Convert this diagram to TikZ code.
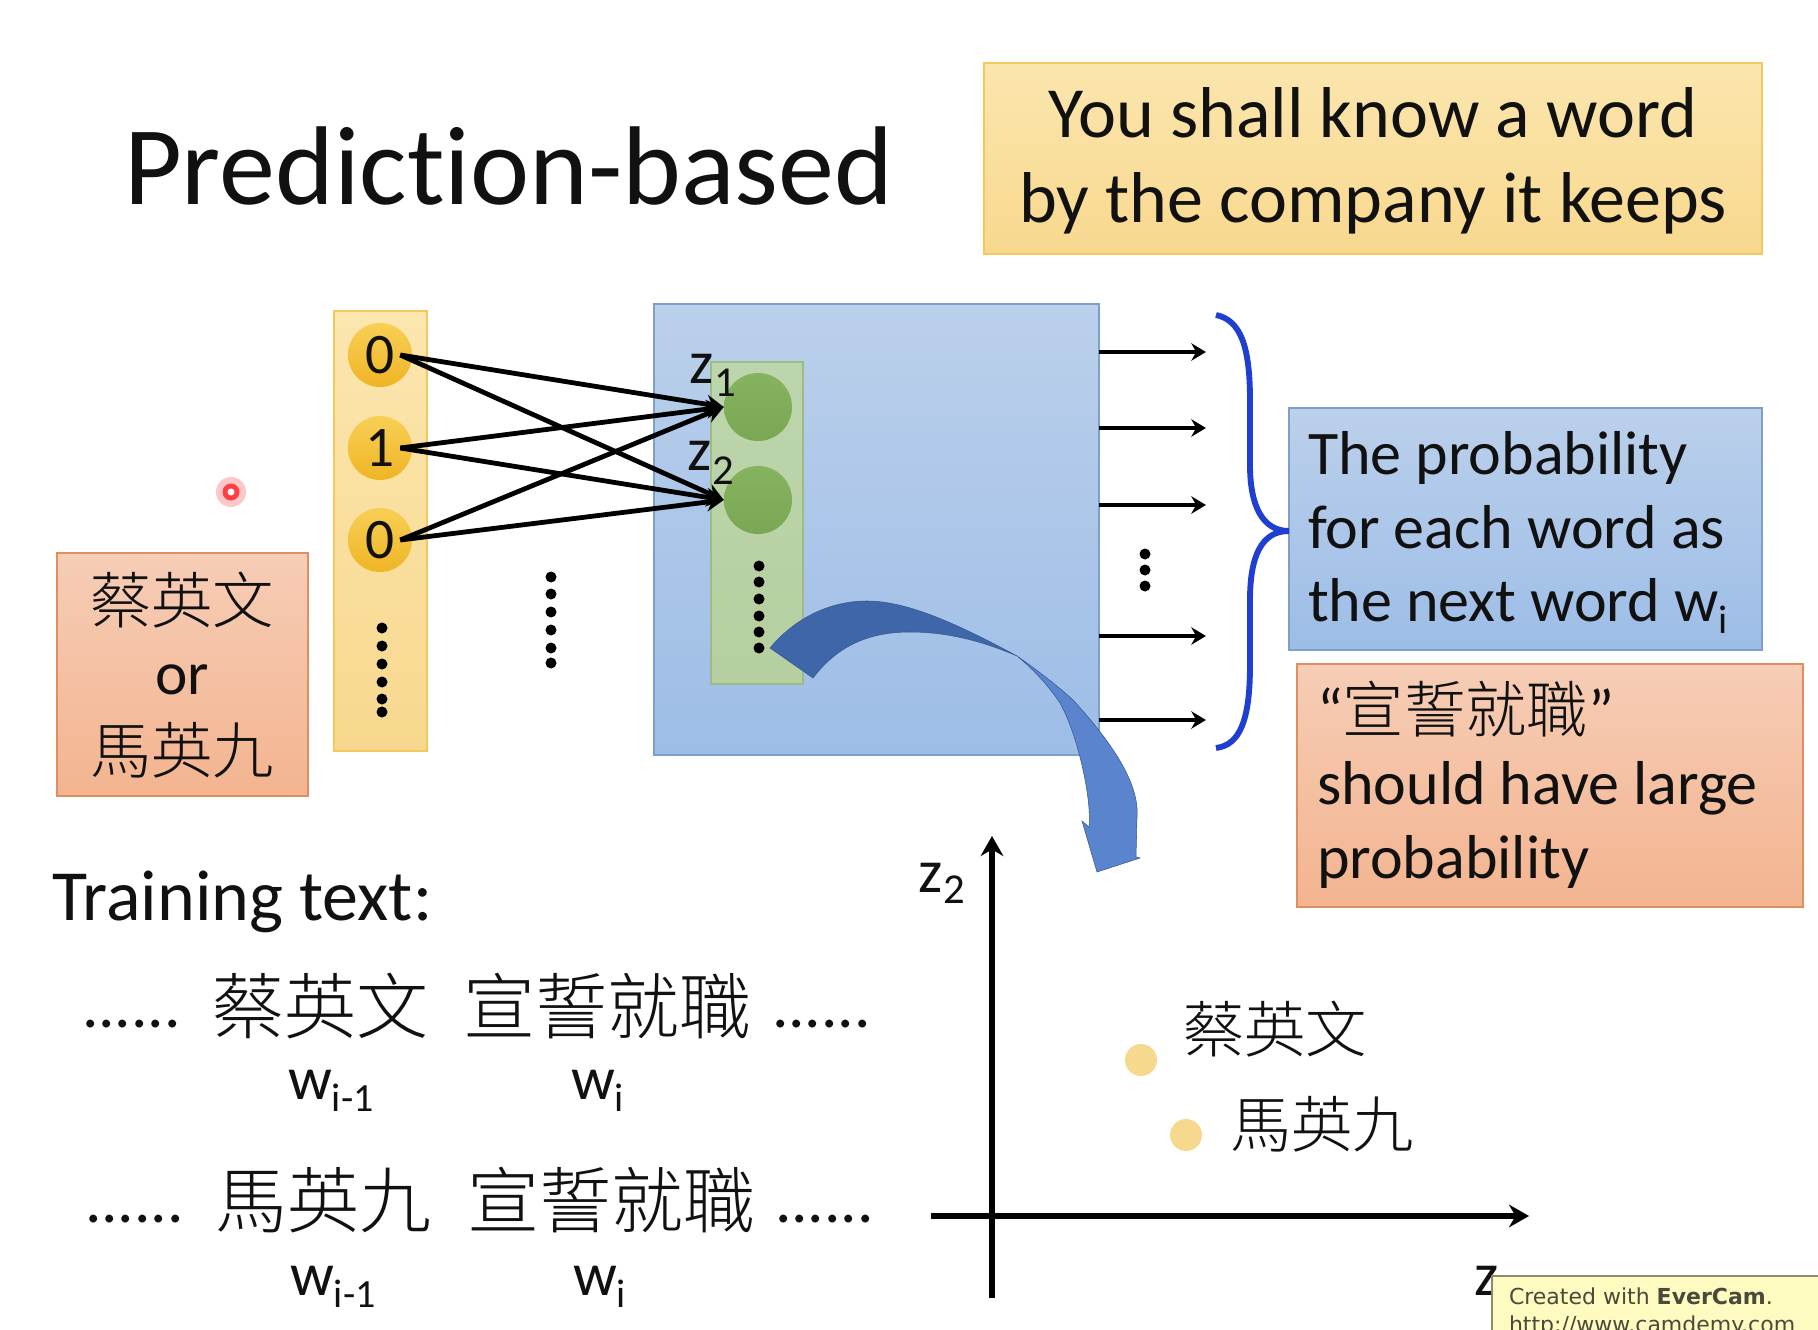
\documentclass[tikz,border=0pt]{standalone}
\usepackage{fontspec}
\usetikzlibrary{arrows.meta}
\setmainfont[Ligatures=NoCommon]{Carlito}
\newfontfamily\cjk[UprightFont=* Light]{Noto Sans CJK TC}
\newfontfamily\titlefont[Ligatures=NoCommon]{Carlito}
\newfontfamily\wmfont{DejaVu Sans}
\newcommand{\fsz}[1]{\fontsize{#1}{#1}\selectfont}
\newcommand{\subt}[1]{{\fontsize{30}{30}\selectfont\raisebox{-0.32em}{#1}}}
\definecolor{txt}{HTML}{111111}
\definecolor{yelT}{HTML}{FBE6AE}\definecolor{yelB}{HTML}{F8D88E}\definecolor{yelL}{HTML}{F3C95C}
\definecolor{bluT}{HTML}{BBD0EB}\definecolor{bluB}{HTML}{9DBDE7}\definecolor{bluL}{HTML}{7F9FCB}
\definecolor{orgT}{HTML}{F6CDB6}\definecolor{orgB}{HTML}{F3B48F}\definecolor{orgL}{HTML}{DE8F62}
\definecolor{grnT}{HTML}{BDD5AC}\definecolor{grnB}{HTML}{B5CFA0}\definecolor{grnL}{HTML}{9CBB85}
\definecolor{nyT}{HTML}{F8CF55}\definecolor{nyB}{HTML}{EFB525}
\definecolor{ngT}{HTML}{86B35F}\definecolor{ngB}{HTML}{7BA755}
\definecolor{braceC}{HTML}{1F3FD0}\definecolor{ptC}{HTML}{F7D88F}
\definecolor{arrD}{HTML}{3F66A8}\definecolor{arrM}{HTML}{5A84CE}
\definecolor{wmfill}{HTML}{FDFBC0}\definecolor{wmline}{HTML}{8A8A70}\definecolor{wmtext}{HTML}{4A4A3A}
\tikzset{
  txtnode/.style={inner sep=0pt,outer sep=0pt,text=txt,anchor=base west},
  ctr/.style={inner sep=0pt,outer sep=0pt,text=txt,anchor=center},
  yellowfill/.style={top color=yelT,bottom color=yelB,draw=yelL,line width=1pt},
  bluefill/.style={top color=bluT,bottom color=bluB,draw=bluL,line width=0.8pt},
  orangefill/.style={top color=orgT,bottom color=orgB,draw=orgL,line width=1pt},
  greenfill/.style={top color=grnT,bottom color=grnB,draw=grnL,line width=0.8pt},
  neuronY/.style={circle,minimum size=48pt,inner sep=0pt,top color=nyT,bottom color=nyB,text=txt},
  neuronG/.style={circle,minimum size=51pt,inner sep=0pt,top color=ngT,bottom color=ngB},
  linkarrow/.style={-{Stealth[length=13pt,width=14pt]},line width=3.6pt,black},
  outarrow/.style={-{Stealth[length=11pt,width=13pt]},line width=3.6pt,black},
  axisarrow/.style={-{Stealth[length=15pt,width=17pt]},line width=5pt,black},
  bluebrace/.style={draw=braceC,line width=4.4pt},
  wordpt/.style={circle,minimum size=24pt,inner sep=0pt,fill=ptC},
  dotfill/.style={fill=black},
}
\begin{document}
\begin{tikzpicture}[x=0.75pt,y=-0.75pt]
\useasboundingbox (0,0) rectangle (1818,1330);
\fill[white] (0,0) rectangle (1818,1330);

% title and quote
\node[txtnode,font=\titlefont\fsz{84}] (title) at (124,205) {Prediction-based};
\path[yellowfill] (984,63) rectangle (1762,254);
\node[ctr,font=\fsz{54}] (q1) at (1373,113) {You shall know a word};
\node[ctr,font=\fsz{54}] (q2) at (1373,203) {by the company it keeps};

% cursor
\fill[red!22] (231,492) circle (15);
\fill[red!75] (231,492) circle (8.5);
\fill[white] (231,492) circle (3.5);

% left word box
\path[orangefill] (57,553) rectangle (308,796);
\node[ctr,font=\cjk\fsz{46}] (w1) at (182,600) {蔡英文};
\node[ctr,font=\fsz{46}] (wor) at (182,680) {or};
\node[ctr,font=\cjk\fsz{46}] (w2) at (182,750) {馬英九};

% input column
\path[yellowfill] (334,311) rectangle (427,751);
\node[neuronY,font=\fsz{43}] (c1) at (380,355) {0};
\node[neuronY,font=\fsz{43}] (c2) at (380,448) {1};
\node[neuronY,font=\fsz{43}] (c3) at (380,540) {0};
\foreach \y in {628,646,664,682,699,712}{\fill[dotfill] (382,\y) circle (5.5);}
\foreach \y in {577,594,612,630,648,663}{\fill[dotfill] (551,\y) circle (5.5);}

% network block
\path[bluefill] (654,304) rectangle (1099,755);
\path[greenfill] (711,362) rectangle (803,684);
\node[neuronG] (g1) at (758,407) {};
\node[neuronG] (g2) at (758,500) {};
\foreach \y in {566,582,599,616,632,648}{\fill[dotfill] (759,\y) circle (5.5);}
\node[txtnode,font=\fsz{46}] (zl1) at (689,383) {z};
\node[txtnode,font=\fsz{32}] (zs1) at (714,397) {1};
\node[txtnode,font=\fsz{46}] (zl2) at (687,470) {z};
\node[txtnode,font=\fsz{32}] (zs2) at (712,484) {2};

\foreach \a in {c1,c2,c3}{\foreach \b in {g1,g2}{
  \draw[linkarrow] (\a.east) ++(-12,0) -- (\b.west);
}}

% outputs
\foreach \n/\y in {a/352,b/428,c/505,d/636,e/720}{
  \coordinate (s\n) at (1099,\y);
  \coordinate (t\n) at (1206,\y);
  \draw[outarrow] (s\n) -- (t\n);
}
\foreach \y in {554,570,586}{\fill[dotfill] (1145,\y) circle (5.5);}

% explanation boxes
\path[bluefill] (1289,408) rectangle (1762,650);
\node[txtnode,font=\fsz{46.5}] (p1) at (1308,474) {The probability};
\node[txtnode,font=\fsz{46.5}] (p2) at (1308,548) {for each word as};
\node[txtnode,font=\fsz{46.5}] (p3) at (1308,621) {the next word w\subt{i}};
\path[orangefill] (1297,664) rectangle (1803,907);
\node[txtnode,font=\fsz{46.5}] (l1) at (1317,732) {“{\cjk\fsz{46}宣誓就職}”};
\node[txtnode,font=\fsz{46.5}] (l2) at (1317,804) {should have large};
\node[txtnode,font=\fsz{46.5}] (l3) at (1317,878) {probability};

% brace
\coordinate (bt) at (1216,315);
\coordinate (bm) at (1289,531);
\coordinate (bb) at (1216,748);
\draw[bluebrace] (bt) .. controls (1240,320) and (1250,345) .. (1250,400)
  -- (1250,465) .. controls (1250,505) and (1262,531) .. (bm)
  .. controls (1262,531) and (1250,555) .. (1250,600)
  -- (1250,665) .. controls (1250,720) and (1240,745) .. (bb);

% big curved arrow: dark tail part and lighter head part
\path[fill=arrD,draw=arrD!85!black,line width=0.4pt]
  (770,648) .. controls (795,618) and (830,601) .. (867,601)
  .. controls (910,601) and (965,628) .. (1017,656)
  .. controls (980,640) and (945,632) .. (910,632)
  .. controls (870,632) and (838,645) .. (813,678) -- cycle;
\path[fill=arrM,draw=arrD!85!black,line width=0.4pt]
  (1017,656) .. controls (1040,672) and (1060,688) .. (1073,700)
  .. controls (1105,735) and (1140,780) .. (1137,817)
  -- (1136,857) -- (1140,858) -- (1097,872) -- (1082,821) -- (1089,827)
  .. controls (1092,800) and (1078,735) .. (1060,703)
  .. controls (1048,685) and (1032,668) .. (1017,656) -- cycle;

% axes
\coordinate (x0) at (931,1216);
\coordinate (x1) at (1529,1216);
\coordinate (y0) at (992,1298);
\coordinate (y1) at (992,836);
\draw[axisarrow] (x0) -- (x1);
\draw[axisarrow] (y0) -- (y1);
\node[txtnode,font=\fsz{46}] (zy) at (918,892) {z};
\node[txtnode,font=\fsz{32}] (zy2) at (943,903) {2};
\node[txtnode,font=\fsz{46}] (zx) at (1474,1295) {z};
\node[wordpt] (p1pt) at (1141,1060) {};
\node[wordpt] (p2pt) at (1186,1135) {};
\node[ctr,font=\cjk\fsz{46}] (lab1) at (1275,1029) {蔡英文};
\node[ctr,font=\cjk\fsz{46}] (lab2) at (1322,1124) {馬英九};

% training text
\node[txtnode,font=\fsz{54}] (tt) at (52,920) {Training text:};
\node[txtnode,font=\fsz{49}] (d1) at (82,1027) {......};
\node[ctr,font=\cjk\fsz{54}] (a1) at (320,1006) {蔡英文};
\node[ctr,font=\cjk\fsz{54}] (a2) at (607,1006) {宣誓就職};
\node[txtnode,font=\fsz{49}] (d2) at (772,1027) {......};
\node[txtnode,font=\fsz{46}] (a3) at (288,1099) {w\subt{i-1}};
\node[txtnode,font=\fsz{46}] (a4) at (571,1099) {w\subt{i}};
\node[txtnode,font=\fsz{49}] (d3) at (85,1222) {......};
\node[ctr,font=\cjk\fsz{54}] (b1) at (323,1200) {馬英九};
\node[ctr,font=\cjk\fsz{54}] (b2) at (611,1200) {宣誓就職};
\node[txtnode,font=\fsz{49}] (d4) at (775,1222) {......};
\node[txtnode,font=\fsz{46}] (b3) at (290,1295) {w\subt{i-1}};
\node[txtnode,font=\fsz{46}] (b4) at (573,1295) {w\subt{i}};

% watermark
\begin{scope}
\clip (0,0) rectangle (1818,1330);
\path[fill=wmfill,draw=wmline,line width=1pt] (1492,1276) rectangle (1830,1345);
\node[txtnode,font=\wmfont\fsz{16.5},text=wmtext] (wm1) at (1509,1304) {Created with \textbf{EverCam}.};
\node[txtnode,font=\wmfont\fsz{16.5},text=wmtext] (wm2) at (1509,1332) {http://www.camdemy.com};
\end{scope}
\end{tikzpicture}
\end{document}
